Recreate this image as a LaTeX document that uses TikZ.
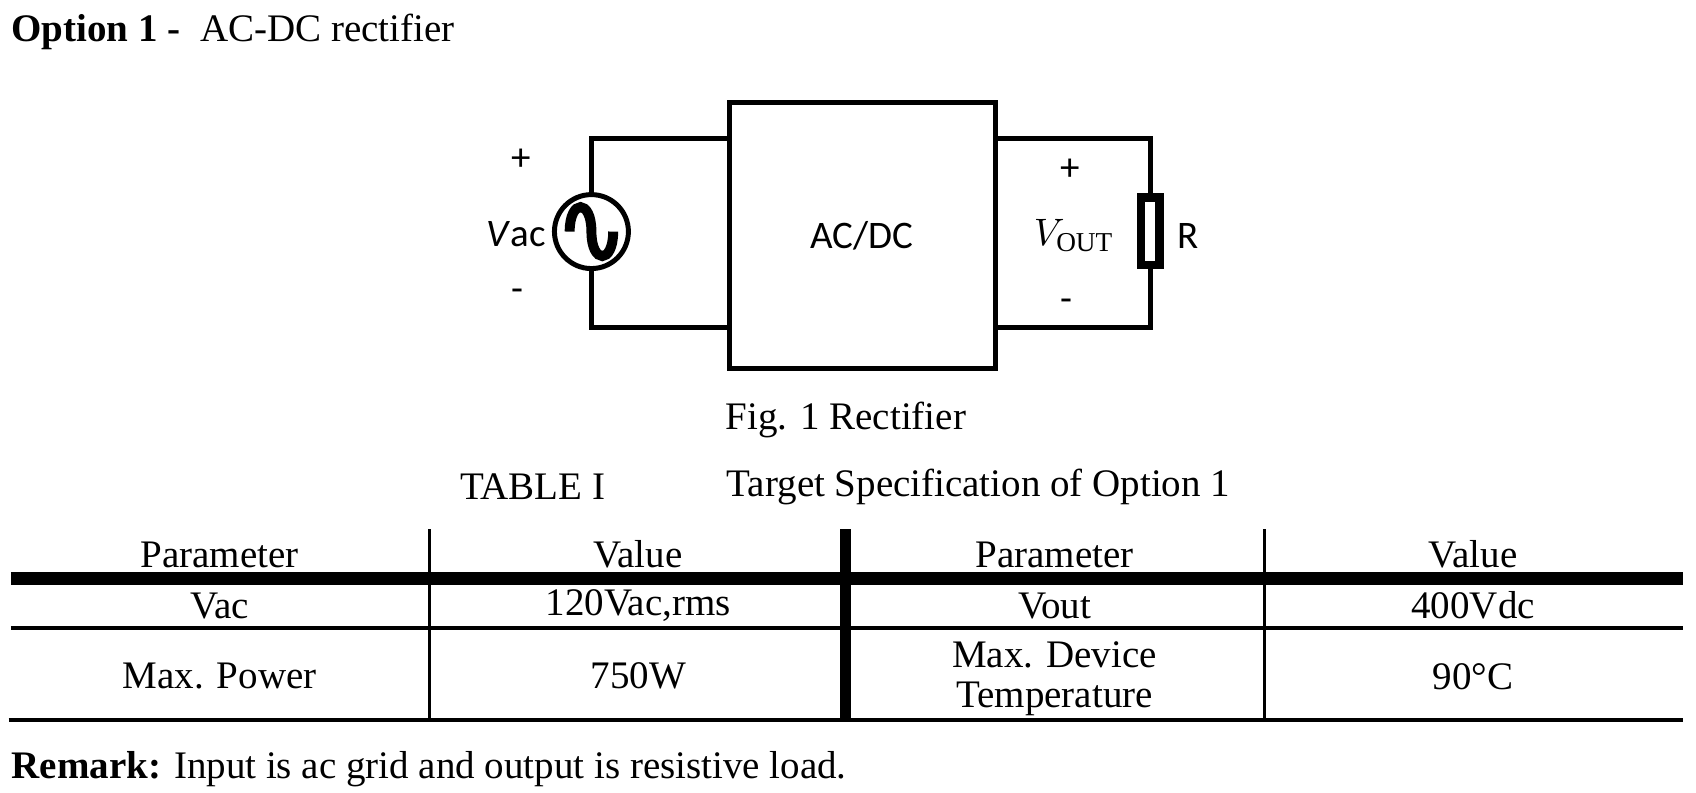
\documentclass[tikz,border=0pt]{standalone}
\usepackage{fontspec}
\setmainfont{Liberation Serif}
\newfontfamily\sansf{Carlito}
\begin{document}
\begin{tikzpicture}[x=0.01cm,y=-0.01cm,
  txt/.style={inner sep=0pt,font=\fontsize{10.2}{12}\selectfont},
  sans/.style={inner sep=0pt,font=\sansf\fontsize{10.2}{12}\selectfont},
  wire/.style={line width=1.3pt},
  rule/.style={line width=0.6pt}]
\useasboundingbox (0,0) rectangle (1560,729);
% title
\node[txt,anchor=base west] (ttl) at (10,38) {\textbf{Option 1 -}\ \ AC-DC rectifier};
% circuit
\draw[wire] (671,94) rectangle (916,339);
\node[sans] (acdc) at (793,217) {AC/DC};
\node[draw,wire,circle,minimum size=0.68cm,inner sep=0pt] (src) at (544,213) {};
\draw[line width=2.6pt] ([xshift=-0.2cm]src.center) .. controls +(0,0.3cm) and +(0,0.3cm) .. (src.center)
  .. controls +(0,-0.3cm) and +(0,-0.3cm) .. ([xshift=0.2cm]src.center);
\node[draw,line width=2.2pt,minimum width=0.17cm,minimum height=0.62cm,inner sep=0pt] (res) at (1058,212.5) {};
\coordinate (a1) at (671,127); \coordinate (a2) at (671,301);
\coordinate (b1) at (916,127); \coordinate (b2) at (916,301);
\draw[wire] (src.north) |- (a1);
\draw[wire] (src.south) |- (a2);
\draw[wire] (res.north) |- (b1);
\draw[wire] (res.south) |- (b2);
\node[sans] (p1) at (479,147) {+};
\node[sans] (m1) at (476,272) {-};
\node[sans,anchor=east] (vac) at (503,215) {\textit{V}ac};
\node[sans] (p2) at (984,156) {+};
\node[sans] (m2) at (981,281) {-};
\node[txt] (vout) at (988,217) {$V_{\mathrm{OUT}}$};
\node[sans] (r) at (1093,217) {R};
\node[txt] (fig) at (778,386) {Fig. 1 Rectifier};
\node[txt] (tab) at (490,448) {TABLE I};
\node[txt] (tspec) at (900,448) {Target Specification of Option 1};
% table
\draw[rule] (395,487) -- (395,662);
\draw[rule] (1163,487) -- (1163,662);
\draw[line width=2.8pt] (778,487) -- (778,662);
\draw[line width=3.2pt] (10,532) -- (1548,532);
\draw[line width=1pt] (10,578) -- (1548,578);
\draw[line width=1pt] (8,662) -- (1548,662);
\node[txt] (h1) at (202,510) {Parameter};
\node[txt] (h2) at (587,510) {Value};
\node[txt] (h3) at (970,510) {Parameter};
\node[txt] (h4) at (1355,510) {Value};
\node[txt] (c11) at (202,557) {Vac};
\node[txt] (c12) at (587,557) {120Vac,rms};
\node[txt] (c13) at (970,557) {Vout};
\node[txt] (c14) at (1355,557) {400Vdc};
\node[txt] (c21) at (202,622) {Max. Power};
\node[txt] (c22) at (587,622) {750W};
\node[txt] (c23a) at (970,602) {Max. Device};
\node[txt] (c23b) at (970,643) {Temperature};
\node[txt] (c24) at (1355,622) {90°C};
\node[txt,anchor=base west] (rem) at (10,716) {\textbf{Remark:} Input is ac grid and output is resistive load.};
\end{tikzpicture}
\end{document}
